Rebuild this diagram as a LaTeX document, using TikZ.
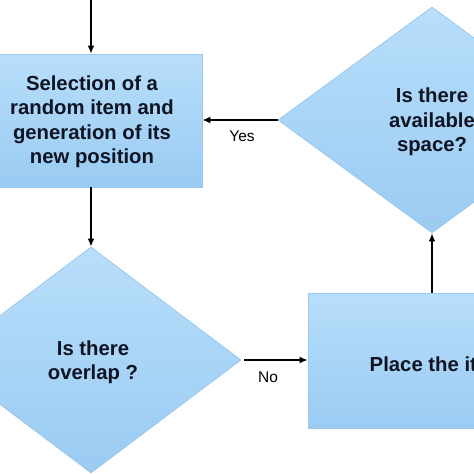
\documentclass[tikz,border=0pt]{standalone}
\usepackage{fontspec}
\setmainfont{Liberation Sans}
\usetikzlibrary{shapes.geometric,arrows.meta}
\definecolor{fillTop}{HTML}{B8DEFB}
\definecolor{fillBot}{HTML}{9ACBF2}
\definecolor{edgeBlue}{HTML}{9CC8EC}
\definecolor{inkDark}{HTML}{0E1422}
\tikzset{
  shapefill/.style={top color=fillTop, bottom color=fillBot, draw=edgeBlue, line width=0.8pt, inner sep=0pt},
  procbox/.style={shapefill, rectangle},
  decision/.style={shapefill, diamond},
  boldtext/.style={font=\fontsize{20.3}{24.5}\selectfont\bfseries, align=center, text=inkDark, inner sep=0pt},
  lbl/.style={font=\fontsize{15.5}{18}\selectfont, inner sep=0pt},
  flow/.style={line width=1.6pt, -{Latex[length=8pt,width=7pt]}}
}
\begin{document}
\begin{tikzpicture}[x=1pt,y=-1pt]
\useasboundingbox (0,0) rectangle (474,474);
\clip (0,0) rectangle (474,474);
\fill[white] (0,0) rectangle (474,474);
\coordinate (topin) at (91,-10);
\node[procbox, minimum width=222pt, minimum height=133pt] (sel) at (91,120.5) {};
\node[boldtext] (seltxt) at (92,121.5) {Selection of a\\random item and\\generation of its\\new position};
\node[decision, minimum width=300pt, minimum height=226pt] (ovl) at (91,360) {};
\node[boldtext] (ovltxt) at (93,362) {Is there\\overlap ?};
\node[procbox, minimum width=248pt, minimum height=135pt] (place) at (432,360.5) {};
\node[boldtext] (placetxt) at (438,364) {Place the item};
\node[decision, minimum width=308pt, minimum height=226pt] (avail) at (432,120) {};
\node[boldtext] (availtxt) at (432,122) {Is there\\available\\space?};
\coordinate (ovlE) at ([xshift=3pt]ovl.east);
\draw[flow] (topin) -- (sel.north);
\draw[flow] (sel.south) -- (ovl.north);
\draw[flow] (ovlE) -- (place.west |- ovlE);
\draw[flow] (place.north) -- (avail.south);
\draw[flow] (avail.west) -- (sel.east |- avail.west);
\node[lbl] (yes) at (242,136) {Yes};
\node[lbl] (no) at (268,377) {No};
\end{tikzpicture}
\end{document}
